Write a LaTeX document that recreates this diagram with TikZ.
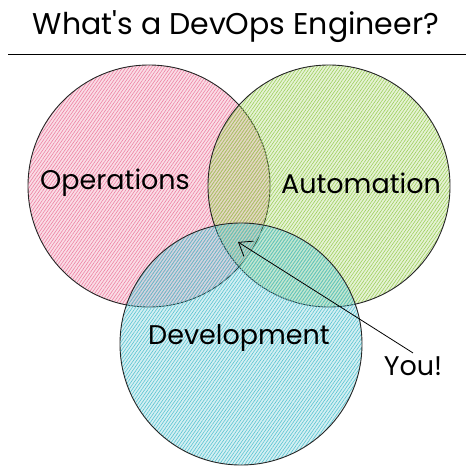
\documentclass[tikz,border=0pt]{standalone}
\usepackage{fontspec}
\setmainfont{Poppins}
\usetikzlibrary{patterns.meta, arrows.meta}
\definecolor{opspink}{HTML}{E8638C}
\definecolor{autogreen}{HTML}{8CC63F}
\definecolor{devcyan}{HTML}{3BB8C8}
\tikzstyle{venn} = [circle, minimum size=242pt, inner sep=0pt, draw=black!85, line width=0.9pt]
\tikzstyle{venntext} = [font=\fontsize{27}{32}\selectfont]
\tikzstyle{arrow} = [line width=0.8pt,-{Straight Barb[length=12pt,width=18pt]}]

\begin{document}
\begin{tikzpicture}[x=1pt, y=-1pt]
   \useasboundingbox (0,0) rectangle (474,474);
   \node (title) at (236,27) [font=\fontsize{30}{36}\selectfont] {What\textquotesingle s a DevOps Engineer?};
   \coordinate (rulel) at (8,54);
   \coordinate (ruler) at (466,54);
   \draw [line width=0.9pt] (rulel) -- (ruler);

   % the three circles
   \node (ops) [venn, preaction={fill=opspink, fill opacity=0.22}, pattern={Lines[angle=55,distance=2.6pt,line width=0.6pt]}, pattern color=opspink!80] at (149,186) {};
   \node (auto) [venn, preaction={fill=autogreen, fill opacity=0.22}, pattern={Lines[angle=55,distance=2.6pt,line width=0.6pt]}, pattern color=autogreen!85] at (329,186) {};
   \node (dev) [venn, preaction={fill=devcyan, fill opacity=0.22}, pattern={Lines[angle=55,distance=2.6pt,line width=0.6pt]}, pattern color=devcyan!85] at (241,344) {};

   \node (opstext) [venntext] at (115,183) {Operations};
   \node (autotext) [venntext] at (361,183) {Automation};
   \node (devtext) [venntext] at (239,338) {Development};
   \node (you) [venntext] at (413,366) {You!};

   \coordinate (middle) at (238,242);
   \draw [arrow] (you.north) -- (middle);
\end{tikzpicture}
\end{document}
